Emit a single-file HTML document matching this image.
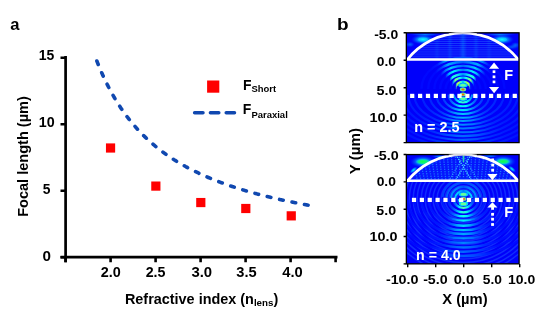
<!DOCTYPE html>
<html><head><meta charset="utf-8"><style>html,body{margin:0;padding:0;background:#fff;overflow:hidden}svg{display:block}</style></head>
<body><svg width="550" height="318" viewBox="0 0 550 318"><rect width="550" height="318" fill="#fff"/>
<path d="M65.6 56 V262.3 M60.5 257.2 H337.5" stroke="#000" stroke-width="2.7" fill="none"/>
<path d="M60.5 57.70 H65.6 M60.5 124.20 H65.6 M60.5 190.70 H65.6 M60.5 257.20 H65.6 M65.60 257.2 V262.3 M110.60 257.2 V262.3 M155.60 257.2 V262.3 M200.60 257.2 V262.3 M245.60 257.2 V262.3 M290.60 257.2 V262.3 M335.60 257.2 V262.3" stroke="#000" stroke-width="2.6" fill="none"/>
<rect x="105.95" y="143.40" width="9.2" height="9.2" fill="#ff0000"/>
<rect x="151.25" y="181.50" width="9.2" height="9.2" fill="#ff0000"/>
<rect x="196.20" y="197.95" width="9.2" height="9.2" fill="#ff0000"/>
<rect x="241.20" y="203.90" width="9.2" height="9.2" fill="#ff0000"/>
<rect x="286.65" y="211.25" width="9.2" height="9.2" fill="#ff0000"/>
<path d="M96.87 61.03 L97.40 62.38 L97.93 63.71 L98.46 65.03 L98.99 66.32 L99.52 67.60 L100.04 68.86 L100.57 70.10 L101.10 71.33 L101.63 72.54 L102.16 73.74 L102.69 74.92 L103.21 76.09 L103.74 77.24 L104.27 78.37 L104.80 79.49 L105.33 80.60 L105.85 81.70 L106.38 82.78 L106.91 83.84 L107.44 84.90 L107.97 85.94 L108.50 86.97 L109.02 87.99 L109.55 88.99 L110.08 89.98 L110.61 90.97 L111.14 91.94 L111.66 92.89 L112.19 93.84 L112.72 94.78 L113.25 95.70 L113.78 96.62 L114.31 97.52 L114.83 98.42 L115.36 99.31 L115.89 100.18 L116.42 101.05 L116.95 101.90 L117.48 102.75 L118.00 103.59 L118.53 104.41 L119.06 105.23 L119.59 106.05 L120.12 106.85 L120.64 107.64 L121.17 108.43 L121.70 109.20 L122.23 109.97 L122.76 110.73 L123.29 111.49 L123.81 112.23 L124.34 112.97 L124.87 113.70 L125.40 114.43 L125.93 115.14 L126.45 115.85 L126.98 116.55 L127.51 117.25 L128.04 117.94 L128.57 118.62 L129.10 119.29 L129.62 119.96 L130.15 120.62 L130.68 121.28 L131.21 121.93 L131.74 122.57 L132.27 123.21 L132.79 123.84 L133.32 124.46 L133.85 125.08 L134.38 125.69 L134.91 126.30 L135.43 126.90 L135.96 127.50 L136.49 128.09 L137.02 128.68 L137.55 129.26 L138.08 129.83 L138.60 130.40 L139.13 130.97 L139.66 131.53 L140.19 132.08 L140.72 132.63 L141.24 133.18 L141.77 133.72 L142.30 134.26 L142.83 134.79 L143.36 135.31 L143.89 135.84 L144.41 136.35 L144.94 136.87 L145.47 137.38 L146.00 137.88 L146.53 138.38 L147.05 138.88 L147.58 139.37 L148.11 139.86 L148.64 140.34 L149.17 140.82 L149.70 141.30 L150.22 141.77 L150.75 142.24 L151.28 142.70 L151.81 143.16 L152.34 143.62 L152.87 144.08 L153.39 144.53 L153.92 144.97 L154.45 145.41 L154.98 145.85 L155.51 146.29 L156.03 146.72 L156.56 147.15 L157.09 147.58 L157.62 148.00 L158.15 148.42 L158.68 148.84 L159.20 149.25 L159.73 149.66 L160.26 150.06 L160.79 150.47 L161.32 150.87 L161.84 151.27 L162.37 151.66 L162.90 152.05 L163.43 152.44 L163.96 152.83 L164.49 153.21 L165.01 153.59 L165.54 153.97 L166.07 154.34 L166.60 154.72 L167.13 155.09 L167.66 155.45 L168.18 155.82 L168.71 156.18 L169.24 156.54 L169.77 156.89 L170.30 157.25 L170.82 157.60 L171.35 157.95 L171.88 158.29 L172.41 158.64 L172.94 158.98 L173.47 159.32 L173.99 159.66 L174.52 159.99 L175.05 160.32 L175.58 160.65 L176.11 160.98 L176.63 161.31 L177.16 161.63 L177.69 161.95 L178.22 162.27 L178.75 162.59 L179.28 162.90 L179.80 163.22 L180.33 163.53 L180.86 163.84 L181.39 164.14 L181.92 164.45 L182.45 164.75 L182.97 165.05 L183.50 165.35 L184.03 165.65 L184.56 165.94 L185.09 166.23 L185.61 166.53 L186.14 166.82 L186.67 167.10 L187.20 167.39 L187.73 167.67 L188.26 167.95 L188.78 168.23 L189.31 168.51 L189.84 168.79 L190.37 169.07 L190.90 169.34 L191.42 169.61 L191.95 169.88 L192.48 170.15 L193.01 170.42 L193.54 170.68 L194.07 170.94 L194.59 171.21 L195.12 171.47 L195.65 171.72 L196.18 171.98 L196.71 172.24 L197.23 172.49 L197.76 172.74 L198.29 172.99 L198.82 173.24 L199.35 173.49 L199.88 173.74 L200.40 173.98 L200.93 174.23 L201.46 174.47 L201.99 174.71 L202.52 174.95 L203.05 175.19 L203.57 175.43 L204.10 175.66 L204.63 175.90 L205.16 176.13 L205.69 176.36 L206.21 176.59 L206.74 176.82 L207.27 177.05 L207.80 177.27 L208.33 177.50 L208.86 177.72 L209.38 177.94 L209.91 178.16 L210.44 178.38 L210.97 178.60 L211.50 178.82 L212.02 179.04 L212.55 179.25 L213.08 179.47 L213.61 179.68 L214.14 179.89 L214.67 180.10 L215.19 180.31 L215.72 180.52 L216.25 180.72 L216.78 180.93 L217.31 181.14 L217.84 181.34 L218.36 181.54 L218.89 181.74 L219.42 181.94 L219.95 182.14 L220.48 182.34 L221.00 182.54 L221.53 182.73 L222.06 182.93 L222.59 183.12 L223.12 183.32 L223.65 183.51 L224.17 183.70 L224.70 183.89 L225.23 184.08 L225.76 184.27 L226.29 184.46 L226.81 184.64 L227.34 184.83 L227.87 185.01 L228.40 185.20 L228.93 185.38 L229.46 185.56 L229.98 185.74 L230.51 185.92 L231.04 186.10 L231.57 186.28 L232.10 186.45 L232.62 186.63 L233.15 186.81 L233.68 186.98 L234.21 187.15 L234.74 187.33 L235.27 187.50 L235.79 187.67 L236.32 187.84 L236.85 188.01 L237.38 188.18 L237.91 188.35 L238.44 188.51 L238.96 188.68 L239.49 188.84 L240.02 189.01 L240.55 189.17 L241.08 189.34 L241.60 189.50 L242.13 189.66 L242.66 189.82 L243.19 189.98 L243.72 190.14 L244.25 190.30 L244.77 190.45 L245.30 190.61 L245.83 190.77 L246.36 190.92 L246.89 191.08 L247.41 191.23 L247.94 191.39 L248.47 191.54 L249.00 191.69 L249.53 191.84 L250.06 191.99 L250.58 192.14 L251.11 192.29 L251.64 192.44 L252.17 192.59 L252.70 192.73 L253.23 192.88 L253.75 193.03 L254.28 193.17 L254.81 193.31 L255.34 193.46 L255.87 193.60 L256.39 193.74 L256.92 193.89 L257.45 194.03 L257.98 194.17 L258.51 194.31 L259.04 194.45 L259.56 194.59 L260.09 194.72 L260.62 194.86 L261.15 195.00 L261.68 195.13 L262.20 195.27 L262.73 195.41 L263.26 195.54 L263.79 195.67 L264.32 195.81 L264.85 195.94 L265.37 196.07 L265.90 196.20 L266.43 196.33 L266.96 196.47 L267.49 196.60 L268.02 196.72 L268.54 196.85 L269.07 196.98 L269.60 197.11 L270.13 197.24 L270.66 197.36 L271.18 197.49 L271.71 197.62 L272.24 197.74 L272.77 197.86 L273.30 197.99 L273.83 198.11 L274.35 198.24 L274.88 198.36 L275.41 198.48 L275.94 198.60 L276.47 198.72 L276.99 198.84 L277.52 198.96 L278.05 199.08 L278.58 199.20 L279.11 199.32 L279.64 199.44 L280.16 199.56 L280.69 199.67 L281.22 199.79 L281.75 199.91 L282.28 200.02 L282.80 200.14 L283.33 200.25 L283.86 200.36 L284.39 200.48 L284.92 200.59 L285.45 200.70 L285.97 200.82 L286.50 200.93 L287.03 201.04 L287.56 201.15 L288.09 201.26 L288.62 201.37 L289.14 201.48 L289.67 201.59 L290.20 201.70 L290.73 201.81 L291.26 201.92 L291.78 202.03 L292.31 202.13 L292.84 202.24 L293.37 202.35 L293.90 202.45 L294.43 202.56 L294.95 202.66 L295.48 202.77 L296.01 202.87 L296.54 202.98 L297.07 203.08 L297.59 203.18 L298.12 203.29 L298.65 203.39 L299.18 203.49 L299.71 203.59 L300.24 203.69 L300.76 203.79 L301.29 203.89 L301.82 203.99 L302.35 204.09 L302.88 204.19 L303.41 204.29 L303.93 204.39 L304.46 204.49 L304.99 204.59 L305.52 204.68 L306.05 204.78 L306.57 204.88 L307.10 204.98 L307.63 205.07 L308.16 205.17" stroke="#1048b0" stroke-width="3.6" fill="none" stroke-linecap="round" stroke-dasharray="3.7 8.98"/>
<rect x="207.1" y="80.5" width="12.2" height="12.2" fill="#ff0000"/>
<path d="M194.6 112.8 H234.5" stroke="#1048b0" stroke-width="3.5" stroke-linecap="round" stroke-dasharray="8.4 7.4" fill="none"/>
<defs><clipPath id="lc1"><path d="M407.41 59.5 A70.8 70.8 0 0 1 518.19 59.5 Z"/></clipPath>
<clipPath id="lc2"><path d="M407.65 180.7 A70.8 70.8 0 0 1 517.95 180.7 Z"/></clipPath>
<clipPath id="bl2"><rect x="407" y="181.8" width="112" height="82"/></clipPath><linearGradient id="gvb"><stop offset="0" stop-color="#00c0ff" stop-opacity="0"/><stop offset="0.5" stop-color="#00c0ff"/><stop offset="1" stop-color="#00c0ff" stop-opacity="0"/></linearGradient><radialGradient id="gcy"><stop offset="0" stop-color="#00ffff"/><stop offset="0.5" stop-color="#00b0ff" stop-opacity="0.7"/><stop offset="1" stop-color="#0040ff" stop-opacity="0"/></radialGradient>
<radialGradient id="ggr"><stop offset="0" stop-color="#10ff40"/><stop offset="0.6" stop-color="#10f080" stop-opacity="0.9"/><stop offset="1" stop-color="#00e0e0" stop-opacity="0"/></radialGradient><linearGradient id="g0" gradientUnits="userSpaceOnUse" x1="455.1" y1="0" x2="470.9" y2="0"><stop offset="0.000" stop-color="#0008ff"/><stop offset="0.014" stop-color="#0008ff"/><stop offset="0.052" stop-color="#0057ff"/><stop offset="0.112" stop-color="#83ff7b"/><stop offset="0.191" stop-color="#bdff41"/><stop offset="0.285" stop-color="#8aff74"/><stop offset="0.390" stop-color="#29ffd5"/><stop offset="0.500" stop-color="#00c7ff"/><stop offset="0.610" stop-color="#29ffd5"/><stop offset="0.715" stop-color="#8aff74"/><stop offset="0.809" stop-color="#bdff41"/><stop offset="0.888" stop-color="#83ff7b"/><stop offset="0.948" stop-color="#0057ff"/><stop offset="0.986" stop-color="#0008ff"/><stop offset="1.000" stop-color="#0008ff"/></linearGradient>
<linearGradient id="g1" gradientUnits="userSpaceOnUse" x1="450.6" y1="0" x2="475.4" y2="0"><stop offset="0.000" stop-color="#0008ff"/><stop offset="0.014" stop-color="#0008ff"/><stop offset="0.052" stop-color="#0008ff"/><stop offset="0.112" stop-color="#0090ff"/><stop offset="0.191" stop-color="#7bff83"/><stop offset="0.285" stop-color="#50ffae"/><stop offset="0.390" stop-color="#00fcff"/><stop offset="0.500" stop-color="#00aaff"/><stop offset="0.610" stop-color="#00fcff"/><stop offset="0.715" stop-color="#50ffae"/><stop offset="0.809" stop-color="#7bff83"/><stop offset="0.888" stop-color="#0090ff"/><stop offset="0.948" stop-color="#0008ff"/><stop offset="0.986" stop-color="#0008ff"/><stop offset="1.000" stop-color="#0008ff"/></linearGradient>
<linearGradient id="g2" gradientUnits="userSpaceOnUse" x1="445.6" y1="0" x2="480.4" y2="0"><stop offset="0.000" stop-color="#0008ff"/><stop offset="0.014" stop-color="#0008ff"/><stop offset="0.052" stop-color="#0008ff"/><stop offset="0.112" stop-color="#0008ff"/><stop offset="0.191" stop-color="#18ffe6"/><stop offset="0.285" stop-color="#1effe0"/><stop offset="0.390" stop-color="#00d7ff"/><stop offset="0.500" stop-color="#0090ff"/><stop offset="0.610" stop-color="#00d7ff"/><stop offset="0.715" stop-color="#1effe0"/><stop offset="0.809" stop-color="#18ffe6"/><stop offset="0.888" stop-color="#0008ff"/><stop offset="0.948" stop-color="#0008ff"/><stop offset="0.986" stop-color="#0008ff"/><stop offset="1.000" stop-color="#0008ff"/></linearGradient>
<linearGradient id="g3" gradientUnits="userSpaceOnUse" x1="440.2" y1="0" x2="485.8" y2="0"><stop offset="0.000" stop-color="#0008ff"/><stop offset="0.014" stop-color="#0008ff"/><stop offset="0.052" stop-color="#0008ff"/><stop offset="0.112" stop-color="#0008ff"/><stop offset="0.191" stop-color="#00b5ff"/><stop offset="0.285" stop-color="#00f3ff"/><stop offset="0.390" stop-color="#00b7ff"/><stop offset="0.500" stop-color="#007bff"/><stop offset="0.610" stop-color="#00b7ff"/><stop offset="0.715" stop-color="#00f3ff"/><stop offset="0.809" stop-color="#00b5ff"/><stop offset="0.888" stop-color="#0008ff"/><stop offset="0.948" stop-color="#0008ff"/><stop offset="0.986" stop-color="#0008ff"/><stop offset="1.000" stop-color="#0008ff"/></linearGradient>
<linearGradient id="g4" gradientUnits="userSpaceOnUse" x1="434.4" y1="0" x2="491.6" y2="0"><stop offset="0.000" stop-color="#0008ff"/><stop offset="0.014" stop-color="#0008ff"/><stop offset="0.052" stop-color="#0008ff"/><stop offset="0.112" stop-color="#0008ff"/><stop offset="0.191" stop-color="#006fff"/><stop offset="0.285" stop-color="#00cfff"/><stop offset="0.390" stop-color="#009cff"/><stop offset="0.500" stop-color="#0069ff"/><stop offset="0.610" stop-color="#009cff"/><stop offset="0.715" stop-color="#00cfff"/><stop offset="0.809" stop-color="#006fff"/><stop offset="0.888" stop-color="#0008ff"/><stop offset="0.948" stop-color="#0008ff"/><stop offset="0.986" stop-color="#0008ff"/><stop offset="1.000" stop-color="#0008ff"/></linearGradient>
<linearGradient id="g5" gradientUnits="userSpaceOnUse" x1="428.2" y1="0" x2="497.8" y2="0"><stop offset="0.000" stop-color="#0008ff"/><stop offset="0.014" stop-color="#0008ff"/><stop offset="0.052" stop-color="#0008ff"/><stop offset="0.112" stop-color="#0008ff"/><stop offset="0.191" stop-color="#003cff"/><stop offset="0.285" stop-color="#00b0ff"/><stop offset="0.390" stop-color="#0085ff"/><stop offset="0.500" stop-color="#0059ff"/><stop offset="0.610" stop-color="#0085ff"/><stop offset="0.715" stop-color="#00b0ff"/><stop offset="0.809" stop-color="#003cff"/><stop offset="0.888" stop-color="#0008ff"/><stop offset="0.948" stop-color="#0008ff"/><stop offset="0.986" stop-color="#0008ff"/><stop offset="1.000" stop-color="#0008ff"/></linearGradient>
<linearGradient id="g6" gradientUnits="userSpaceOnUse" x1="421.5" y1="0" x2="504.5" y2="0"><stop offset="0.000" stop-color="#0008ff"/><stop offset="0.014" stop-color="#0008ff"/><stop offset="0.052" stop-color="#0008ff"/><stop offset="0.112" stop-color="#0008ff"/><stop offset="0.191" stop-color="#0018ff"/><stop offset="0.285" stop-color="#0096ff"/><stop offset="0.390" stop-color="#0071ff"/><stop offset="0.500" stop-color="#004cff"/><stop offset="0.610" stop-color="#0071ff"/><stop offset="0.715" stop-color="#0096ff"/><stop offset="0.809" stop-color="#0018ff"/><stop offset="0.888" stop-color="#0008ff"/><stop offset="0.948" stop-color="#0008ff"/><stop offset="0.986" stop-color="#0008ff"/><stop offset="1.000" stop-color="#0008ff"/></linearGradient>
<linearGradient id="g7" gradientUnits="userSpaceOnUse" x1="458.4" y1="0" x2="467.6" y2="0"><stop offset="0.000" stop-color="#00f8ff"/><stop offset="0.011" stop-color="#00fcff"/><stop offset="0.041" stop-color="#08fff6"/><stop offset="0.087" stop-color="#1affe4"/><stop offset="0.149" stop-color="#31ffcd"/><stop offset="0.225" stop-color="#4bffb3"/><stop offset="0.311" stop-color="#62ff9c"/><stop offset="0.404" stop-color="#73ff8b"/><stop offset="0.500" stop-color="#79ff85"/><stop offset="0.596" stop-color="#73ff8b"/><stop offset="0.689" stop-color="#62ff9c"/><stop offset="0.775" stop-color="#4bffb3"/><stop offset="0.851" stop-color="#31ffcd"/><stop offset="0.913" stop-color="#1affe4"/><stop offset="0.959" stop-color="#08fff6"/><stop offset="0.989" stop-color="#00fcff"/><stop offset="1.000" stop-color="#00f8ff"/></linearGradient>
<linearGradient id="g8" gradientUnits="userSpaceOnUse" x1="453.8" y1="0" x2="472.2" y2="0"><stop offset="0.000" stop-color="#007dff"/><stop offset="0.011" stop-color="#0081ff"/><stop offset="0.041" stop-color="#008cff"/><stop offset="0.087" stop-color="#009fff"/><stop offset="0.149" stop-color="#00bbff"/><stop offset="0.225" stop-color="#00dfff"/><stop offset="0.311" stop-color="#07fff7"/><stop offset="0.404" stop-color="#26ffd8"/><stop offset="0.500" stop-color="#32ffcc"/><stop offset="0.596" stop-color="#26ffd8"/><stop offset="0.689" stop-color="#07fff7"/><stop offset="0.775" stop-color="#00dfff"/><stop offset="0.851" stop-color="#00bbff"/><stop offset="0.913" stop-color="#009fff"/><stop offset="0.959" stop-color="#008cff"/><stop offset="0.989" stop-color="#0081ff"/><stop offset="1.000" stop-color="#007dff"/></linearGradient>
<linearGradient id="g9" gradientUnits="userSpaceOnUse" x1="448.6" y1="0" x2="477.4" y2="0"><stop offset="0.000" stop-color="#004bff"/><stop offset="0.011" stop-color="#004dff"/><stop offset="0.041" stop-color="#0055ff"/><stop offset="0.087" stop-color="#0063ff"/><stop offset="0.149" stop-color="#007bff"/><stop offset="0.225" stop-color="#009eff"/><stop offset="0.311" stop-color="#00caff"/><stop offset="0.404" stop-color="#00f1ff"/><stop offset="0.500" stop-color="#02fffc"/><stop offset="0.596" stop-color="#00f1ff"/><stop offset="0.689" stop-color="#00caff"/><stop offset="0.775" stop-color="#009eff"/><stop offset="0.851" stop-color="#007bff"/><stop offset="0.913" stop-color="#0063ff"/><stop offset="0.959" stop-color="#0055ff"/><stop offset="0.989" stop-color="#004dff"/><stop offset="1.000" stop-color="#004bff"/></linearGradient>
<linearGradient id="g10" gradientUnits="userSpaceOnUse" x1="442.8" y1="0" x2="483.2" y2="0"><stop offset="0.000" stop-color="#0035ff"/><stop offset="0.011" stop-color="#0037ff"/><stop offset="0.041" stop-color="#003bff"/><stop offset="0.087" stop-color="#0044ff"/><stop offset="0.149" stop-color="#0056ff"/><stop offset="0.225" stop-color="#0075ff"/><stop offset="0.311" stop-color="#00a1ff"/><stop offset="0.404" stop-color="#00ccff"/><stop offset="0.500" stop-color="#00dfff"/><stop offset="0.596" stop-color="#00ccff"/><stop offset="0.689" stop-color="#00a1ff"/><stop offset="0.775" stop-color="#0075ff"/><stop offset="0.851" stop-color="#0056ff"/><stop offset="0.913" stop-color="#0044ff"/><stop offset="0.959" stop-color="#003bff"/><stop offset="0.989" stop-color="#0037ff"/><stop offset="1.000" stop-color="#0035ff"/></linearGradient>
<linearGradient id="g11" gradientUnits="userSpaceOnUse" x1="436.4" y1="0" x2="489.6" y2="0"><stop offset="0.000" stop-color="#002bff"/><stop offset="0.011" stop-color="#002bff"/><stop offset="0.041" stop-color="#002dff"/><stop offset="0.087" stop-color="#0033ff"/><stop offset="0.149" stop-color="#003fff"/><stop offset="0.225" stop-color="#0059ff"/><stop offset="0.311" stop-color="#0083ff"/><stop offset="0.404" stop-color="#00b0ff"/><stop offset="0.500" stop-color="#00c5ff"/><stop offset="0.596" stop-color="#00b0ff"/><stop offset="0.689" stop-color="#0083ff"/><stop offset="0.775" stop-color="#0059ff"/><stop offset="0.851" stop-color="#003fff"/><stop offset="0.913" stop-color="#0033ff"/><stop offset="0.959" stop-color="#002dff"/><stop offset="0.989" stop-color="#002bff"/><stop offset="1.000" stop-color="#002bff"/></linearGradient>
<linearGradient id="g12" gradientUnits="userSpaceOnUse" x1="429.5" y1="0" x2="496.5" y2="0"><stop offset="0.000" stop-color="#0024ff"/><stop offset="0.011" stop-color="#0024ff"/><stop offset="0.041" stop-color="#0026ff"/><stop offset="0.087" stop-color="#0029ff"/><stop offset="0.149" stop-color="#0031ff"/><stop offset="0.225" stop-color="#0045ff"/><stop offset="0.311" stop-color="#006bff"/><stop offset="0.404" stop-color="#009aff"/><stop offset="0.500" stop-color="#00b0ff"/><stop offset="0.596" stop-color="#009aff"/><stop offset="0.689" stop-color="#006bff"/><stop offset="0.775" stop-color="#0045ff"/><stop offset="0.851" stop-color="#0031ff"/><stop offset="0.913" stop-color="#0029ff"/><stop offset="0.959" stop-color="#0026ff"/><stop offset="0.989" stop-color="#0024ff"/><stop offset="1.000" stop-color="#0024ff"/></linearGradient>
<linearGradient id="g13" gradientUnits="userSpaceOnUse" x1="422.0" y1="0" x2="504.0" y2="0"><stop offset="0.000" stop-color="#0020ff"/><stop offset="0.011" stop-color="#0020ff"/><stop offset="0.041" stop-color="#0021ff"/><stop offset="0.087" stop-color="#0022ff"/><stop offset="0.149" stop-color="#0028ff"/><stop offset="0.225" stop-color="#0037ff"/><stop offset="0.311" stop-color="#0059ff"/><stop offset="0.404" stop-color="#0087ff"/><stop offset="0.500" stop-color="#009fff"/><stop offset="0.596" stop-color="#0087ff"/><stop offset="0.689" stop-color="#0059ff"/><stop offset="0.775" stop-color="#0037ff"/><stop offset="0.851" stop-color="#0028ff"/><stop offset="0.913" stop-color="#0022ff"/><stop offset="0.959" stop-color="#0021ff"/><stop offset="0.989" stop-color="#0020ff"/><stop offset="1.000" stop-color="#0020ff"/></linearGradient>
<linearGradient id="g14" gradientUnits="userSpaceOnUse" x1="414.3" y1="0" x2="511.7" y2="0"><stop offset="0.000" stop-color="#001dff"/><stop offset="0.011" stop-color="#001dff"/><stop offset="0.041" stop-color="#001dff"/><stop offset="0.087" stop-color="#001eff"/><stop offset="0.149" stop-color="#0021ff"/><stop offset="0.225" stop-color="#002dff"/><stop offset="0.311" stop-color="#004aff"/><stop offset="0.404" stop-color="#0077ff"/><stop offset="0.500" stop-color="#0090ff"/><stop offset="0.596" stop-color="#0077ff"/><stop offset="0.689" stop-color="#004aff"/><stop offset="0.775" stop-color="#002dff"/><stop offset="0.851" stop-color="#0021ff"/><stop offset="0.913" stop-color="#001eff"/><stop offset="0.959" stop-color="#001dff"/><stop offset="0.989" stop-color="#001dff"/><stop offset="1.000" stop-color="#001dff"/></linearGradient>
<linearGradient id="g15" gradientUnits="userSpaceOnUse" x1="408.3" y1="0" x2="517.7" y2="0"><stop offset="0.000" stop-color="#001aff"/><stop offset="0.011" stop-color="#001aff"/><stop offset="0.041" stop-color="#001aff"/><stop offset="0.087" stop-color="#001bff"/><stop offset="0.149" stop-color="#001eff"/><stop offset="0.225" stop-color="#0027ff"/><stop offset="0.311" stop-color="#0042ff"/><stop offset="0.404" stop-color="#006bff"/><stop offset="0.500" stop-color="#0082ff"/><stop offset="0.596" stop-color="#006bff"/><stop offset="0.689" stop-color="#0042ff"/><stop offset="0.775" stop-color="#0027ff"/><stop offset="0.851" stop-color="#001eff"/><stop offset="0.913" stop-color="#001bff"/><stop offset="0.959" stop-color="#001aff"/><stop offset="0.989" stop-color="#001aff"/><stop offset="1.000" stop-color="#001aff"/></linearGradient>
<linearGradient id="g16" gradientUnits="userSpaceOnUse" x1="402.3" y1="0" x2="523.7" y2="0"><stop offset="0.000" stop-color="#0017ff"/><stop offset="0.011" stop-color="#0017ff"/><stop offset="0.041" stop-color="#0018ff"/><stop offset="0.087" stop-color="#0018ff"/><stop offset="0.149" stop-color="#001aff"/><stop offset="0.225" stop-color="#0023ff"/><stop offset="0.311" stop-color="#003aff"/><stop offset="0.404" stop-color="#0061ff"/><stop offset="0.500" stop-color="#0076ff"/><stop offset="0.596" stop-color="#0061ff"/><stop offset="0.689" stop-color="#003aff"/><stop offset="0.775" stop-color="#0023ff"/><stop offset="0.851" stop-color="#001aff"/><stop offset="0.913" stop-color="#0018ff"/><stop offset="0.959" stop-color="#0018ff"/><stop offset="0.989" stop-color="#0017ff"/><stop offset="1.000" stop-color="#0017ff"/></linearGradient>
<linearGradient id="g17" gradientUnits="userSpaceOnUse" x1="396.3" y1="0" x2="529.7" y2="0"><stop offset="0.000" stop-color="#0015ff"/><stop offset="0.011" stop-color="#0015ff"/><stop offset="0.041" stop-color="#0015ff"/><stop offset="0.087" stop-color="#0016ff"/><stop offset="0.149" stop-color="#0018ff"/><stop offset="0.225" stop-color="#001fff"/><stop offset="0.311" stop-color="#0034ff"/><stop offset="0.404" stop-color="#0057ff"/><stop offset="0.500" stop-color="#006cff"/><stop offset="0.596" stop-color="#0057ff"/><stop offset="0.689" stop-color="#0034ff"/><stop offset="0.775" stop-color="#001fff"/><stop offset="0.851" stop-color="#0018ff"/><stop offset="0.913" stop-color="#0016ff"/><stop offset="0.959" stop-color="#0015ff"/><stop offset="0.989" stop-color="#0015ff"/><stop offset="1.000" stop-color="#0015ff"/></linearGradient>
<linearGradient id="g18" gradientUnits="userSpaceOnUse" x1="390.3" y1="0" x2="535.7" y2="0"><stop offset="0.000" stop-color="#0013ff"/><stop offset="0.011" stop-color="#0013ff"/><stop offset="0.041" stop-color="#0013ff"/><stop offset="0.087" stop-color="#0014ff"/><stop offset="0.149" stop-color="#0015ff"/><stop offset="0.225" stop-color="#001cff"/><stop offset="0.311" stop-color="#002eff"/><stop offset="0.404" stop-color="#004fff"/><stop offset="0.500" stop-color="#0062ff"/><stop offset="0.596" stop-color="#004fff"/><stop offset="0.689" stop-color="#002eff"/><stop offset="0.775" stop-color="#001cff"/><stop offset="0.851" stop-color="#0015ff"/><stop offset="0.913" stop-color="#0014ff"/><stop offset="0.959" stop-color="#0013ff"/><stop offset="0.989" stop-color="#0013ff"/><stop offset="1.000" stop-color="#0013ff"/></linearGradient>
<linearGradient id="g19" gradientUnits="userSpaceOnUse" x1="384.3" y1="0" x2="541.7" y2="0"><stop offset="0.000" stop-color="#0011ff"/><stop offset="0.011" stop-color="#0011ff"/><stop offset="0.041" stop-color="#0012ff"/><stop offset="0.087" stop-color="#0012ff"/><stop offset="0.149" stop-color="#0013ff"/><stop offset="0.225" stop-color="#0019ff"/><stop offset="0.311" stop-color="#002aff"/><stop offset="0.404" stop-color="#0047ff"/><stop offset="0.500" stop-color="#0059ff"/><stop offset="0.596" stop-color="#0047ff"/><stop offset="0.689" stop-color="#002aff"/><stop offset="0.775" stop-color="#0019ff"/><stop offset="0.851" stop-color="#0013ff"/><stop offset="0.913" stop-color="#0012ff"/><stop offset="0.959" stop-color="#0012ff"/><stop offset="0.989" stop-color="#0011ff"/><stop offset="1.000" stop-color="#0011ff"/></linearGradient>
<linearGradient id="g20" gradientUnits="userSpaceOnUse" x1="378.3" y1="0" x2="547.7" y2="0"><stop offset="0.000" stop-color="#0010ff"/><stop offset="0.011" stop-color="#0010ff"/><stop offset="0.041" stop-color="#0010ff"/><stop offset="0.087" stop-color="#0010ff"/><stop offset="0.149" stop-color="#0011ff"/><stop offset="0.225" stop-color="#0016ff"/><stop offset="0.311" stop-color="#0025ff"/><stop offset="0.404" stop-color="#0041ff"/><stop offset="0.500" stop-color="#0051ff"/><stop offset="0.596" stop-color="#0041ff"/><stop offset="0.689" stop-color="#0025ff"/><stop offset="0.775" stop-color="#0016ff"/><stop offset="0.851" stop-color="#0011ff"/><stop offset="0.913" stop-color="#0010ff"/><stop offset="0.959" stop-color="#0010ff"/><stop offset="0.989" stop-color="#0010ff"/><stop offset="1.000" stop-color="#0010ff"/></linearGradient>
<linearGradient id="g21" gradientUnits="userSpaceOnUse" x1="455.1" y1="0" x2="471.9" y2="0"><stop offset="0.000" stop-color="#00ceff"/><stop offset="0.026" stop-color="#00ceff"/><stop offset="0.081" stop-color="#00ceff"/><stop offset="0.161" stop-color="#00ceff"/><stop offset="0.262" stop-color="#00beff"/><stop offset="0.377" stop-color="#009dff"/><stop offset="0.500" stop-color="#007bff"/><stop offset="0.623" stop-color="#009dff"/><stop offset="0.738" stop-color="#00beff"/><stop offset="0.839" stop-color="#00ceff"/><stop offset="0.919" stop-color="#00ceff"/><stop offset="0.974" stop-color="#00ceff"/><stop offset="1.000" stop-color="#00ceff"/></linearGradient>
<linearGradient id="g22" gradientUnits="userSpaceOnUse" x1="450.9" y1="0" x2="476.1" y2="0"><stop offset="0.000" stop-color="#008aff"/><stop offset="0.026" stop-color="#008aff"/><stop offset="0.081" stop-color="#008aff"/><stop offset="0.161" stop-color="#008aff"/><stop offset="0.262" stop-color="#007fff"/><stop offset="0.377" stop-color="#0069ff"/><stop offset="0.500" stop-color="#0052ff"/><stop offset="0.623" stop-color="#0069ff"/><stop offset="0.738" stop-color="#007fff"/><stop offset="0.839" stop-color="#008aff"/><stop offset="0.919" stop-color="#008aff"/><stop offset="0.974" stop-color="#008aff"/><stop offset="1.000" stop-color="#008aff"/></linearGradient>
<linearGradient id="g23" gradientUnits="userSpaceOnUse" x1="446.8" y1="0" x2="480.2" y2="0"><stop offset="0.000" stop-color="#005cff"/><stop offset="0.026" stop-color="#005cff"/><stop offset="0.081" stop-color="#005cff"/><stop offset="0.161" stop-color="#005cff"/><stop offset="0.262" stop-color="#0055ff"/><stop offset="0.377" stop-color="#0046ff"/><stop offset="0.500" stop-color="#0037ff"/><stop offset="0.623" stop-color="#0046ff"/><stop offset="0.738" stop-color="#0055ff"/><stop offset="0.839" stop-color="#005cff"/><stop offset="0.919" stop-color="#005cff"/><stop offset="0.974" stop-color="#005cff"/><stop offset="1.000" stop-color="#005cff"/></linearGradient>
<linearGradient id="g24" gradientUnits="userSpaceOnUse" x1="442.6" y1="0" x2="484.4" y2="0"><stop offset="0.000" stop-color="#003eff"/><stop offset="0.026" stop-color="#003eff"/><stop offset="0.081" stop-color="#003eff"/><stop offset="0.161" stop-color="#003eff"/><stop offset="0.262" stop-color="#0039ff"/><stop offset="0.377" stop-color="#002fff"/><stop offset="0.500" stop-color="#0025ff"/><stop offset="0.623" stop-color="#002fff"/><stop offset="0.738" stop-color="#0039ff"/><stop offset="0.839" stop-color="#003eff"/><stop offset="0.919" stop-color="#003eff"/><stop offset="0.974" stop-color="#003eff"/><stop offset="1.000" stop-color="#003eff"/></linearGradient>
<linearGradient id="g25" gradientUnits="userSpaceOnUse" x1="458.9" y1="0" x2="468.1" y2="0"><stop offset="0.000" stop-color="#00c7ff"/><stop offset="0.007" stop-color="#00caff"/><stop offset="0.027" stop-color="#00d4ff"/><stop offset="0.057" stop-color="#00e3ff"/><stop offset="0.099" stop-color="#00f8ff"/><stop offset="0.149" stop-color="#13ffeb"/><stop offset="0.209" stop-color="#30ffce"/><stop offset="0.275" stop-color="#4dffb1"/><stop offset="0.347" stop-color="#67ff97"/><stop offset="0.423" stop-color="#78ff86"/><stop offset="0.500" stop-color="#7eff80"/><stop offset="0.577" stop-color="#78ff86"/><stop offset="0.653" stop-color="#67ff97"/><stop offset="0.725" stop-color="#4dffb1"/><stop offset="0.791" stop-color="#30ffce"/><stop offset="0.851" stop-color="#13ffeb"/><stop offset="0.901" stop-color="#00f8ff"/><stop offset="0.943" stop-color="#00e3ff"/><stop offset="0.973" stop-color="#00d4ff"/><stop offset="0.993" stop-color="#00caff"/><stop offset="1.000" stop-color="#00c7ff"/></linearGradient>
<linearGradient id="g26" gradientUnits="userSpaceOnUse" x1="453.8" y1="0" x2="473.2" y2="0"><stop offset="0.000" stop-color="#0045ff"/><stop offset="0.007" stop-color="#0048ff"/><stop offset="0.027" stop-color="#004eff"/><stop offset="0.057" stop-color="#005aff"/><stop offset="0.099" stop-color="#006eff"/><stop offset="0.149" stop-color="#008cff"/><stop offset="0.209" stop-color="#00b5ff"/><stop offset="0.275" stop-color="#00e8ff"/><stop offset="0.347" stop-color="#1dffe1"/><stop offset="0.423" stop-color="#45ffb9"/><stop offset="0.500" stop-color="#54ffaa"/><stop offset="0.577" stop-color="#45ffb9"/><stop offset="0.653" stop-color="#1dffe1"/><stop offset="0.725" stop-color="#00e8ff"/><stop offset="0.791" stop-color="#00b5ff"/><stop offset="0.851" stop-color="#008cff"/><stop offset="0.901" stop-color="#006eff"/><stop offset="0.943" stop-color="#005aff"/><stop offset="0.973" stop-color="#004eff"/><stop offset="0.993" stop-color="#0048ff"/><stop offset="1.000" stop-color="#0045ff"/></linearGradient>
<linearGradient id="g27" gradientUnits="userSpaceOnUse" x1="448.2" y1="0" x2="478.8" y2="0"><stop offset="0.000" stop-color="#0025ff"/><stop offset="0.007" stop-color="#0025ff"/><stop offset="0.027" stop-color="#0028ff"/><stop offset="0.057" stop-color="#002dff"/><stop offset="0.099" stop-color="#0037ff"/><stop offset="0.149" stop-color="#004aff"/><stop offset="0.209" stop-color="#006cff"/><stop offset="0.275" stop-color="#009fff"/><stop offset="0.347" stop-color="#00dfff"/><stop offset="0.423" stop-color="#18ffe6"/><stop offset="0.500" stop-color="#2fffcf"/><stop offset="0.577" stop-color="#18ffe6"/><stop offset="0.653" stop-color="#00dfff"/><stop offset="0.725" stop-color="#009fff"/><stop offset="0.791" stop-color="#006cff"/><stop offset="0.851" stop-color="#004aff"/><stop offset="0.901" stop-color="#0037ff"/><stop offset="0.943" stop-color="#002dff"/><stop offset="0.973" stop-color="#0028ff"/><stop offset="0.993" stop-color="#0025ff"/><stop offset="1.000" stop-color="#0025ff"/></linearGradient>
<linearGradient id="g28" gradientUnits="userSpaceOnUse" x1="442.2" y1="0" x2="484.8" y2="0"><stop offset="0.000" stop-color="#001cff"/><stop offset="0.007" stop-color="#001cff"/><stop offset="0.027" stop-color="#001dff"/><stop offset="0.057" stop-color="#001eff"/><stop offset="0.099" stop-color="#0023ff"/><stop offset="0.149" stop-color="#002dff"/><stop offset="0.209" stop-color="#0043ff"/><stop offset="0.275" stop-color="#006eff"/><stop offset="0.347" stop-color="#00afff"/><stop offset="0.423" stop-color="#00f0ff"/><stop offset="0.500" stop-color="#0efff0"/><stop offset="0.577" stop-color="#00f0ff"/><stop offset="0.653" stop-color="#00afff"/><stop offset="0.725" stop-color="#006eff"/><stop offset="0.791" stop-color="#0043ff"/><stop offset="0.851" stop-color="#002dff"/><stop offset="0.901" stop-color="#0023ff"/><stop offset="0.943" stop-color="#001eff"/><stop offset="0.973" stop-color="#001dff"/><stop offset="0.993" stop-color="#001cff"/><stop offset="1.000" stop-color="#001cff"/></linearGradient>
<linearGradient id="g29" gradientUnits="userSpaceOnUse" x1="435.7" y1="0" x2="491.3" y2="0"><stop offset="0.000" stop-color="#0018ff"/><stop offset="0.007" stop-color="#0018ff"/><stop offset="0.027" stop-color="#0018ff"/><stop offset="0.057" stop-color="#0018ff"/><stop offset="0.099" stop-color="#001aff"/><stop offset="0.149" stop-color="#001fff"/><stop offset="0.209" stop-color="#002cff"/><stop offset="0.275" stop-color="#004dff"/><stop offset="0.347" stop-color="#0089ff"/><stop offset="0.423" stop-color="#00cfff"/><stop offset="0.500" stop-color="#00f0ff"/><stop offset="0.577" stop-color="#00cfff"/><stop offset="0.653" stop-color="#0089ff"/><stop offset="0.725" stop-color="#004dff"/><stop offset="0.791" stop-color="#002cff"/><stop offset="0.851" stop-color="#001fff"/><stop offset="0.901" stop-color="#001aff"/><stop offset="0.943" stop-color="#0018ff"/><stop offset="0.973" stop-color="#0018ff"/><stop offset="0.993" stop-color="#0018ff"/><stop offset="1.000" stop-color="#0018ff"/></linearGradient>
<linearGradient id="g30" gradientUnits="userSpaceOnUse" x1="428.7" y1="0" x2="498.3" y2="0"><stop offset="0.000" stop-color="#0015ff"/><stop offset="0.007" stop-color="#0015ff"/><stop offset="0.027" stop-color="#0015ff"/><stop offset="0.057" stop-color="#0015ff"/><stop offset="0.099" stop-color="#0016ff"/><stop offset="0.149" stop-color="#0018ff"/><stop offset="0.209" stop-color="#0020ff"/><stop offset="0.275" stop-color="#0037ff"/><stop offset="0.347" stop-color="#006cff"/><stop offset="0.423" stop-color="#00b2ff"/><stop offset="0.500" stop-color="#00d5ff"/><stop offset="0.577" stop-color="#00b2ff"/><stop offset="0.653" stop-color="#006cff"/><stop offset="0.725" stop-color="#0037ff"/><stop offset="0.791" stop-color="#0020ff"/><stop offset="0.851" stop-color="#0018ff"/><stop offset="0.901" stop-color="#0016ff"/><stop offset="0.943" stop-color="#0015ff"/><stop offset="0.973" stop-color="#0015ff"/><stop offset="0.993" stop-color="#0015ff"/><stop offset="1.000" stop-color="#0015ff"/></linearGradient>
<linearGradient id="g31" gradientUnits="userSpaceOnUse" x1="421.3" y1="0" x2="505.7" y2="0"><stop offset="0.000" stop-color="#0013ff"/><stop offset="0.007" stop-color="#0013ff"/><stop offset="0.027" stop-color="#0013ff"/><stop offset="0.057" stop-color="#0013ff"/><stop offset="0.099" stop-color="#0013ff"/><stop offset="0.149" stop-color="#0014ff"/><stop offset="0.209" stop-color="#0018ff"/><stop offset="0.275" stop-color="#0029ff"/><stop offset="0.347" stop-color="#0055ff"/><stop offset="0.423" stop-color="#0099ff"/><stop offset="0.500" stop-color="#00beff"/><stop offset="0.577" stop-color="#0099ff"/><stop offset="0.653" stop-color="#0055ff"/><stop offset="0.725" stop-color="#0029ff"/><stop offset="0.791" stop-color="#0018ff"/><stop offset="0.851" stop-color="#0014ff"/><stop offset="0.901" stop-color="#0013ff"/><stop offset="0.943" stop-color="#0013ff"/><stop offset="0.973" stop-color="#0013ff"/><stop offset="0.993" stop-color="#0013ff"/><stop offset="1.000" stop-color="#0013ff"/></linearGradient>
<linearGradient id="g32" gradientUnits="userSpaceOnUse" x1="414.2" y1="0" x2="512.8" y2="0"><stop offset="0.000" stop-color="#0010ff"/><stop offset="0.007" stop-color="#0010ff"/><stop offset="0.027" stop-color="#0010ff"/><stop offset="0.057" stop-color="#0010ff"/><stop offset="0.099" stop-color="#0011ff"/><stop offset="0.149" stop-color="#0011ff"/><stop offset="0.209" stop-color="#0014ff"/><stop offset="0.275" stop-color="#0020ff"/><stop offset="0.347" stop-color="#0045ff"/><stop offset="0.423" stop-color="#0085ff"/><stop offset="0.500" stop-color="#00a9ff"/><stop offset="0.577" stop-color="#0085ff"/><stop offset="0.653" stop-color="#0045ff"/><stop offset="0.725" stop-color="#0020ff"/><stop offset="0.791" stop-color="#0014ff"/><stop offset="0.851" stop-color="#0011ff"/><stop offset="0.901" stop-color="#0011ff"/><stop offset="0.943" stop-color="#0010ff"/><stop offset="0.973" stop-color="#0010ff"/><stop offset="0.993" stop-color="#0010ff"/><stop offset="1.000" stop-color="#0010ff"/></linearGradient>
<linearGradient id="g33" gradientUnits="userSpaceOnUse" x1="408.1" y1="0" x2="518.9" y2="0"><stop offset="0.000" stop-color="#000fff"/><stop offset="0.007" stop-color="#000fff"/><stop offset="0.027" stop-color="#000fff"/><stop offset="0.057" stop-color="#000fff"/><stop offset="0.099" stop-color="#000fff"/><stop offset="0.149" stop-color="#000fff"/><stop offset="0.209" stop-color="#0011ff"/><stop offset="0.275" stop-color="#001aff"/><stop offset="0.347" stop-color="#003aff"/><stop offset="0.423" stop-color="#0074ff"/><stop offset="0.500" stop-color="#0097ff"/><stop offset="0.577" stop-color="#0074ff"/><stop offset="0.653" stop-color="#003aff"/><stop offset="0.725" stop-color="#001aff"/><stop offset="0.791" stop-color="#0011ff"/><stop offset="0.851" stop-color="#000fff"/><stop offset="0.901" stop-color="#000fff"/><stop offset="0.943" stop-color="#000fff"/><stop offset="0.973" stop-color="#000fff"/><stop offset="0.993" stop-color="#000fff"/><stop offset="1.000" stop-color="#000fff"/></linearGradient>
<linearGradient id="g34" gradientUnits="userSpaceOnUse" x1="401.9" y1="0" x2="525.1" y2="0"><stop offset="0.000" stop-color="#000dff"/><stop offset="0.007" stop-color="#000dff"/><stop offset="0.027" stop-color="#000dff"/><stop offset="0.057" stop-color="#000dff"/><stop offset="0.099" stop-color="#000dff"/><stop offset="0.149" stop-color="#000dff"/><stop offset="0.209" stop-color="#000fff"/><stop offset="0.275" stop-color="#0016ff"/><stop offset="0.347" stop-color="#0031ff"/><stop offset="0.423" stop-color="#0066ff"/><stop offset="0.500" stop-color="#0086ff"/><stop offset="0.577" stop-color="#0066ff"/><stop offset="0.653" stop-color="#0031ff"/><stop offset="0.725" stop-color="#0016ff"/><stop offset="0.791" stop-color="#000fff"/><stop offset="0.851" stop-color="#000dff"/><stop offset="0.901" stop-color="#000dff"/><stop offset="0.943" stop-color="#000dff"/><stop offset="0.973" stop-color="#000dff"/><stop offset="0.993" stop-color="#000dff"/><stop offset="1.000" stop-color="#000dff"/></linearGradient>
<linearGradient id="g35" gradientUnits="userSpaceOnUse" x1="395.8" y1="0" x2="531.2" y2="0"><stop offset="0.000" stop-color="#000bff"/><stop offset="0.007" stop-color="#000bff"/><stop offset="0.027" stop-color="#000bff"/><stop offset="0.057" stop-color="#000bff"/><stop offset="0.099" stop-color="#000cff"/><stop offset="0.149" stop-color="#000cff"/><stop offset="0.209" stop-color="#000dff"/><stop offset="0.275" stop-color="#0013ff"/><stop offset="0.347" stop-color="#002aff"/><stop offset="0.423" stop-color="#005aff"/><stop offset="0.500" stop-color="#0077ff"/><stop offset="0.577" stop-color="#005aff"/><stop offset="0.653" stop-color="#002aff"/><stop offset="0.725" stop-color="#0013ff"/><stop offset="0.791" stop-color="#000dff"/><stop offset="0.851" stop-color="#000cff"/><stop offset="0.901" stop-color="#000cff"/><stop offset="0.943" stop-color="#000bff"/><stop offset="0.973" stop-color="#000bff"/><stop offset="0.993" stop-color="#000bff"/><stop offset="1.000" stop-color="#000bff"/></linearGradient>
<linearGradient id="g36" gradientUnits="userSpaceOnUse" x1="389.6" y1="0" x2="537.4" y2="0"><stop offset="0.000" stop-color="#000aff"/><stop offset="0.007" stop-color="#000aff"/><stop offset="0.027" stop-color="#000aff"/><stop offset="0.057" stop-color="#000aff"/><stop offset="0.099" stop-color="#000aff"/><stop offset="0.149" stop-color="#000aff"/><stop offset="0.209" stop-color="#000bff"/><stop offset="0.275" stop-color="#0010ff"/><stop offset="0.347" stop-color="#0024ff"/><stop offset="0.423" stop-color="#004fff"/><stop offset="0.500" stop-color="#006aff"/><stop offset="0.577" stop-color="#004fff"/><stop offset="0.653" stop-color="#0024ff"/><stop offset="0.725" stop-color="#0010ff"/><stop offset="0.791" stop-color="#000bff"/><stop offset="0.851" stop-color="#000aff"/><stop offset="0.901" stop-color="#000aff"/><stop offset="0.943" stop-color="#000aff"/><stop offset="0.973" stop-color="#000aff"/><stop offset="0.993" stop-color="#000aff"/><stop offset="1.000" stop-color="#000aff"/></linearGradient>
<linearGradient id="g37" gradientUnits="userSpaceOnUse" x1="383.4" y1="0" x2="543.6" y2="0"><stop offset="0.000" stop-color="#0009ff"/><stop offset="0.007" stop-color="#0009ff"/><stop offset="0.027" stop-color="#0009ff"/><stop offset="0.057" stop-color="#0009ff"/><stop offset="0.099" stop-color="#0009ff"/><stop offset="0.149" stop-color="#0009ff"/><stop offset="0.209" stop-color="#000aff"/><stop offset="0.275" stop-color="#000eff"/><stop offset="0.347" stop-color="#001fff"/><stop offset="0.423" stop-color="#0046ff"/><stop offset="0.500" stop-color="#005fff"/><stop offset="0.577" stop-color="#0046ff"/><stop offset="0.653" stop-color="#001fff"/><stop offset="0.725" stop-color="#000eff"/><stop offset="0.791" stop-color="#000aff"/><stop offset="0.851" stop-color="#0009ff"/><stop offset="0.901" stop-color="#0009ff"/><stop offset="0.943" stop-color="#0009ff"/><stop offset="0.973" stop-color="#0009ff"/><stop offset="0.993" stop-color="#0009ff"/><stop offset="1.000" stop-color="#0009ff"/></linearGradient>
<clipPath id="pc0"><rect x="406.95000000000005" y="33.4" width="111.55" height="108.6"/></clipPath>
<clipPath id="pc1"><rect x="406.95000000000005" y="155.15" width="111.55" height="108.10000000000001"/></clipPath>
</defs>
<rect x="406.35" y="32.8" width="112.75" height="109.8" fill="#0000fa"/>
<g clip-path="url(#pc0)">
<g clip-path="url(#lc1)">
<path d="M407 34.0 H519 M407 35.9 H519 M407 37.8 H519 M407 39.7 H519 M407 41.6 H519 M407 43.5 H519 M407 45.4 H519 M407 47.3 H519 M407 49.2 H519 M407 51.1 H519 M407 53.0 H519 M407 54.9 H519 M407 56.8 H519 M407 58.7 H519" stroke="#2a64ff" stroke-opacity="0.6" stroke-width="0.9"/>
<rect x="459" y="33" width="8" height="27" fill="url(#gvb)" opacity="0.28"/>
<rect x="447" y="33" width="6" height="27" fill="url(#gvb)" opacity="0.16"/>
<rect x="473" y="33" width="6" height="27" fill="url(#gvb)" opacity="0.16"/>
<rect x="434" y="33" width="6" height="27" fill="url(#gvb)" opacity="0.1"/>
<rect x="486" y="33" width="6" height="27" fill="url(#gvb)" opacity="0.1"/>
</g>
<ellipse cx="423" cy="39.5" rx="12" ry="5" fill="url(#gcy)"/>
<ellipse cx="502" cy="39.5" rx="12" ry="5" fill="url(#gcy)"/>
<ellipse cx="423" cy="39.5" rx="5" ry="2" fill="#20ffff" opacity="0.35"/>
<ellipse cx="502" cy="39.5" rx="5" ry="2" fill="#20ffff" opacity="0.35"/>
<ellipse cx="512" cy="47" rx="7" ry="2.5" fill="url(#gcy)" opacity="0.35"/>
<ellipse cx="410" cy="44.5" rx="5" ry="3" fill="url(#gcy)" opacity="0.4"/>
<ellipse cx="515.5" cy="45" rx="5" ry="3" fill="url(#gcy)" opacity="0.4"/>
<ellipse cx="425" cy="34.5" rx="16" ry="1.8" fill="url(#gcy)" opacity="0.5"/>
<ellipse cx="500" cy="34.5" rx="16" ry="1.8" fill="url(#gcy)" opacity="0.5"/>
<g fill="none" stroke-width="2.3">
<path d="M455.12 89.27A7.88 7.70 0 0 1 470.88 89.27" stroke="url(#g0)"/>
<path d="M450.55 89.20A12.45 11.55 0 0 1 475.45 89.20" stroke="url(#g1)"/>
<path d="M445.58 89.13A17.43 15.40 0 0 1 480.42 89.13" stroke="url(#g2)"/>
<path d="M440.18 89.06A22.82 19.25 0 0 1 485.82 89.06" stroke="url(#g3)"/>
<path d="M434.37 89.00A28.63 23.10 0 0 1 491.63 89.00" stroke="url(#g4)"/>
<path d="M428.15 88.93A34.85 26.95 0 0 1 497.85 88.93" stroke="url(#g5)"/>
<path d="M421.51 88.86A41.49 30.80 0 0 1 504.49 88.86" stroke="url(#g6)"/>
</g>
<g fill="none" stroke-width="2.1">
<path d="M458.45 94.47A4.55 4.20 0 0 0 467.55 94.47" stroke="url(#g7)"/>
<path d="M453.79 94.54A9.21 7.95 0 0 0 472.21 94.54" stroke="url(#g8)"/>
<path d="M448.56 94.60A14.44 11.70 0 0 0 477.44 94.60" stroke="url(#g9)"/>
<path d="M442.78 94.67A20.22 15.45 0 0 0 483.22 94.67" stroke="url(#g10)"/>
<path d="M436.43 94.74A26.57 19.20 0 0 0 489.57 94.74" stroke="url(#g11)"/>
<path d="M429.52 94.80A33.48 22.95 0 0 0 496.48 94.80" stroke="url(#g12)"/>
<path d="M422.05 94.87A40.96 26.70 0 0 0 503.95 94.87" stroke="url(#g13)"/>
<path d="M414.29 94.93A48.72 30.45 0 0 0 511.71 94.93" stroke="url(#g14)"/>
<path d="M408.29 95.00A54.72 34.20 0 0 0 517.71 95.00" stroke="url(#g15)"/>
<path d="M402.29 95.06A60.72 37.95 0 0 0 523.71 95.06" stroke="url(#g16)"/>
<path d="M396.29 95.13A66.72 41.70 0 0 0 529.71 95.13" stroke="url(#g17)"/>
<path d="M390.29 95.19A72.72 45.45 0 0 0 535.71 95.19" stroke="url(#g18)"/>
<path d="M384.29 95.26A78.72 49.20 0 0 0 541.71 95.26" stroke="url(#g19)"/>
<path d="M378.29 95.32A84.72 52.95 0 0 0 547.71 95.32" stroke="url(#g20)"/>
</g>
<ellipse cx="463.00" cy="85.20" rx="4.6" ry="2.2" fill="#00dbff" opacity="0.95"/>
<ellipse cx="463.00" cy="85.20" rx="3.0" ry="1.3" fill="#6bff93" opacity="1.0"/>
<ellipse cx="463.00" cy="89.50" rx="3.2" ry="1.9" fill="#6bff93" opacity="0.95"/>
<ellipse cx="463.00" cy="89.50" rx="1.6" ry="1.0" fill="#ff6000" opacity="1.0"/>
<ellipse cx="463.00" cy="94.40" rx="3.1" ry="1.9" fill="#6bff93" opacity="0.95"/>
<ellipse cx="463.00" cy="94.40" rx="1.5" ry="1.0" fill="#ff6000" opacity="1.0"/>
<ellipse cx="463.00" cy="98.80" rx="4.4" ry="2.1" fill="#00dbff" opacity="0.95"/>
<ellipse cx="463.00" cy="98.80" rx="2.8" ry="1.2" fill="#6bff93" opacity="1.0"/>
</g>
<g clip-path="url(#pc0)"><path d="M407.41 59.5 A70.8 70.8 0 0 1 518.19 59.5" stroke="#fff" stroke-width="2.7" fill="none"/>
<path d="M406.35 59.5 H519.1" stroke="#fff" stroke-width="2.6"/></g>
<rect x="410.10" y="93.80" width="4.2" height="4.2" fill="#fff"/>
<rect x="417.99" y="93.80" width="4.2" height="4.2" fill="#fff"/>
<rect x="425.88" y="93.80" width="4.2" height="4.2" fill="#fff"/>
<rect x="433.77" y="93.80" width="4.2" height="4.2" fill="#fff"/>
<rect x="441.66" y="93.80" width="4.2" height="4.2" fill="#fff"/>
<rect x="449.55" y="93.80" width="4.2" height="4.2" fill="#fff"/>
<rect x="457.44" y="93.80" width="4.2" height="4.2" fill="#fff"/>
<rect x="465.33" y="93.80" width="4.2" height="4.2" fill="#fff"/>
<rect x="473.22" y="93.80" width="4.2" height="4.2" fill="#fff"/>
<rect x="481.11" y="93.80" width="4.2" height="4.2" fill="#fff"/>
<rect x="489.00" y="93.80" width="4.2" height="4.2" fill="#fff"/>
<rect x="496.89" y="93.80" width="4.2" height="4.2" fill="#fff"/>
<rect x="504.78" y="93.80" width="4.2" height="4.2" fill="#fff"/>
<rect x="512.67" y="93.80" width="4.2" height="4.2" fill="#fff"/>
<rect x="406.35" y="154.55" width="112.75" height="109.30000000000001" fill="#0000fa"/>
<g clip-path="url(#pc1)">
<g clip-path="url(#lc2)">
<rect x="407" y="150" width="112" height="32" fill="#0a2cff" opacity="0.5"/>
<path d="M410.2 152 L417.7 181" stroke="#30d0ff" stroke-opacity="0.5" stroke-width="1.3" stroke-dasharray="1.2 1.2"/>
<path d="M414.3 152 L421.2 181" stroke="#30d0ff" stroke-opacity="0.5" stroke-width="1.3" stroke-dasharray="1.2 1.2"/>
<path d="M418.4 152 L424.7 181" stroke="#30d0ff" stroke-opacity="0.5" stroke-width="1.3" stroke-dasharray="1.2 1.2"/>
<path d="M422.5 152 L428.2 181" stroke="#30d0ff" stroke-opacity="0.5" stroke-width="1.3" stroke-dasharray="1.2 1.2"/>
<path d="M426.6 152 L431.8 181" stroke="#30d0ff" stroke-opacity="0.5" stroke-width="1.3" stroke-dasharray="1.2 1.2"/>
<path d="M430.7 152 L435.3 181" stroke="#30d0ff" stroke-opacity="0.5" stroke-width="1.3" stroke-dasharray="1.2 1.2"/>
<path d="M434.8 152 L438.8 181" stroke="#30d0ff" stroke-opacity="0.5" stroke-width="1.3" stroke-dasharray="1.2 1.2"/>
<path d="M438.9 152 L442.3 181" stroke="#30d0ff" stroke-opacity="0.5" stroke-width="1.3" stroke-dasharray="1.2 1.2"/>
<path d="M443.0 152 L445.9 181" stroke="#30d0ff" stroke-opacity="0.5" stroke-width="1.3" stroke-dasharray="1.2 1.2"/>
<path d="M447.1 152 L449.4 181" stroke="#30d0ff" stroke-opacity="0.5" stroke-width="1.3" stroke-dasharray="1.2 1.2"/>
<path d="M451.2 152 L452.9 181" stroke="#30d0ff" stroke-opacity="0.5" stroke-width="1.3" stroke-dasharray="1.2 1.2"/>
<path d="M455.3 152 L456.4 181" stroke="#30d0ff" stroke-opacity="0.5" stroke-width="1.3" stroke-dasharray="1.2 1.2"/>
<path d="M459.4 152 L460.0 181" stroke="#30d0ff" stroke-opacity="0.6" stroke-width="1.3" stroke-dasharray="1.2 1.2"/>
<path d="M463.5 152 L463.5 181" stroke="#30d0ff" stroke-opacity="0.6" stroke-width="1.3" stroke-dasharray="1.2 1.2"/>
<path d="M467.6 152 L467.0 181" stroke="#30d0ff" stroke-opacity="0.6" stroke-width="1.3" stroke-dasharray="1.2 1.2"/>
<path d="M471.7 152 L470.6 181" stroke="#30d0ff" stroke-opacity="0.5" stroke-width="1.3" stroke-dasharray="1.2 1.2"/>
<path d="M475.8 152 L474.1 181" stroke="#30d0ff" stroke-opacity="0.5" stroke-width="1.3" stroke-dasharray="1.2 1.2"/>
<path d="M479.9 152 L477.6 181" stroke="#30d0ff" stroke-opacity="0.5" stroke-width="1.3" stroke-dasharray="1.2 1.2"/>
<path d="M484.0 152 L481.1 181" stroke="#30d0ff" stroke-opacity="0.5" stroke-width="1.3" stroke-dasharray="1.2 1.2"/>
<path d="M488.1 152 L484.7 181" stroke="#30d0ff" stroke-opacity="0.5" stroke-width="1.3" stroke-dasharray="1.2 1.2"/>
<path d="M492.2 152 L488.2 181" stroke="#30d0ff" stroke-opacity="0.5" stroke-width="1.3" stroke-dasharray="1.2 1.2"/>
<path d="M496.3 152 L491.7 181" stroke="#30d0ff" stroke-opacity="0.5" stroke-width="1.3" stroke-dasharray="1.2 1.2"/>
<path d="M500.4 152 L495.2 181" stroke="#30d0ff" stroke-opacity="0.5" stroke-width="1.3" stroke-dasharray="1.2 1.2"/>
<path d="M504.5 152 L498.8 181" stroke="#30d0ff" stroke-opacity="0.5" stroke-width="1.3" stroke-dasharray="1.2 1.2"/>
<path d="M508.6 152 L502.3 181" stroke="#30d0ff" stroke-opacity="0.5" stroke-width="1.3" stroke-dasharray="1.2 1.2"/>
<path d="M512.7 152 L505.8 181" stroke="#30d0ff" stroke-opacity="0.5" stroke-width="1.3" stroke-dasharray="1.2 1.2"/>
<path d="M516.8 152 L509.3 181" stroke="#30d0ff" stroke-opacity="0.5" stroke-width="1.3" stroke-dasharray="1.2 1.2"/>
<path d="M456 155 L472 181 M471 155 L455 181" stroke="#50f0ff" stroke-opacity="0.9" stroke-width="1.4" stroke-dasharray="1.2 1.1"/>
<path d="M463.5 156 L449 181 M463.5 156 L478 181" stroke="#40d8ff" stroke-opacity="0.55" stroke-width="1.3" stroke-dasharray="1.2 1.1"/>
<path d="M463.5 154 V162" stroke="#30f0a0" stroke-opacity="0.8" stroke-width="1.6"/>
</g>
<ellipse cx="423" cy="161.7" rx="13" ry="6" fill="url(#gcy)"/>
<ellipse cx="503" cy="161.5" rx="13" ry="6" fill="url(#gcy)"/>
<ellipse cx="423" cy="161.7" rx="7.5" ry="3" fill="url(#ggr)"/>
<ellipse cx="503" cy="161.5" rx="7.5" ry="3" fill="url(#ggr)"/>
<ellipse cx="413.5" cy="170" rx="5" ry="2.2" fill="url(#gcy)" transform="rotate(-40 413.5 170)"/>
<ellipse cx="512" cy="169" rx="5" ry="2.2" fill="url(#gcy)" transform="rotate(40 512 169)"/>
<ellipse cx="440" cy="156.5" rx="9" ry="1.8" fill="url(#gcy)" opacity="0.6"/>
<ellipse cx="490" cy="156" rx="9" ry="1.8" fill="url(#gcy)" opacity="0.6"/>
<g clip-path="url(#bl2)"><path d="M456.9 198.9A6.6 6.0 0 1 0 470.1 198.9A6.6 6.0 0 1 0 456.9 198.9 M452.9 198.9A10.6 9.6 0 1 0 474.1 198.9A10.6 9.6 0 1 0 452.9 198.9 M449.0 198.9A14.5 13.2 0 1 0 478.0 198.9A14.5 13.2 0 1 0 449.0 198.9 M445.0 198.9A18.5 16.8 0 1 0 482.0 198.9A18.5 16.8 0 1 0 445.0 198.9 M441.1 198.9A22.4 20.4 0 1 0 485.9 198.9A22.4 20.4 0 1 0 441.1 198.9 M437.1 198.9A26.4 24.0 0 1 0 489.9 198.9A26.4 24.0 0 1 0 437.1 198.9 M433.1 198.9A30.4 27.6 0 1 0 493.9 198.9A30.4 27.6 0 1 0 433.1 198.9 M429.2 198.9A34.3 31.2 0 1 0 497.8 198.9A34.3 31.2 0 1 0 429.2 198.9 M425.2 198.9A38.3 34.8 0 1 0 501.8 198.9A38.3 34.8 0 1 0 425.2 198.9 M421.3 198.9A42.2 38.4 0 1 0 505.7 198.9A42.2 38.4 0 1 0 421.3 198.9 M417.3 198.9A46.2 42.0 0 1 0 509.7 198.9A46.2 42.0 0 1 0 417.3 198.9 M413.3 198.9A50.2 45.6 0 1 0 513.7 198.9A50.2 45.6 0 1 0 413.3 198.9 M409.4 198.9A54.1 49.2 0 1 0 517.6 198.9A54.1 49.2 0 1 0 409.4 198.9 M405.4 198.9A58.1 52.8 0 1 0 521.6 198.9A58.1 52.8 0 1 0 405.4 198.9 M401.5 198.9A62.0 56.4 0 1 0 525.5 198.9A62.0 56.4 0 1 0 401.5 198.9 M397.5 198.9A66.0 60.0 0 1 0 529.5 198.9A66.0 60.0 0 1 0 397.5 198.9 M393.5 198.9A70.0 63.6 0 1 0 533.5 198.9A70.0 63.6 0 1 0 393.5 198.9 M389.6 198.9A73.9 67.2 0 1 0 537.4 198.9A73.9 67.2 0 1 0 389.6 198.9 M385.6 198.9A77.9 70.8 0 1 0 541.4 198.9A77.9 70.8 0 1 0 385.6 198.9 M381.7 198.9A81.8 74.4 0 1 0 545.3 198.9A81.8 74.4 0 1 0 381.7 198.9" fill="none" stroke="#1e50ff" stroke-width="1.5" stroke-opacity="0.55"/></g>
<g fill="none" stroke-width="2.1">
<path d="M455.13 198.20A8.40 8.00 0 0 1 471.87 198.20" stroke="url(#g21)"/>
<path d="M450.95 197.85A12.60 12.00 0 0 1 476.05 197.85" stroke="url(#g22)"/>
<path d="M446.76 197.51A16.80 16.00 0 0 1 480.24 197.51" stroke="url(#g23)"/>
<path d="M442.58 197.16A21.00 20.00 0 0 1 484.42 197.16" stroke="url(#g24)"/>
</g>
<g fill="none" stroke-width="2.3">
<path d="M458.87 198.98A4.63 4.40 0 0 0 468.13 198.98" stroke="url(#g25)"/>
<path d="M453.77 199.05A9.73 8.80 0 0 0 473.23 199.05" stroke="url(#g26)"/>
<path d="M448.21 199.13A15.29 13.20 0 0 0 478.79 199.13" stroke="url(#g27)"/>
<path d="M442.19 199.21A21.32 17.60 0 0 0 484.81 199.21" stroke="url(#g28)"/>
<path d="M435.70 199.28A27.81 22.00 0 0 0 491.30 199.28" stroke="url(#g29)"/>
<path d="M428.74 199.36A34.76 26.40 0 0 0 498.26 199.36" stroke="url(#g30)"/>
<path d="M421.32 199.44A42.18 30.80 0 0 0 505.68 199.44" stroke="url(#g31)"/>
<path d="M414.23 199.51A49.28 35.20 0 0 0 512.77 199.51" stroke="url(#g32)"/>
<path d="M408.07 199.59A55.44 39.60 0 0 0 518.93 199.59" stroke="url(#g33)"/>
<path d="M401.91 199.67A61.60 44.00 0 0 0 525.09 199.67" stroke="url(#g34)"/>
<path d="M395.75 199.74A67.76 48.40 0 0 0 531.25 199.74" stroke="url(#g35)"/>
<path d="M389.59 199.82A73.92 52.80 0 0 0 537.41 199.82" stroke="url(#g36)"/>
<path d="M383.43 199.90A80.08 57.20 0 0 0 543.57 199.90" stroke="url(#g37)"/>
</g>
<ellipse cx="463.50" cy="194.40" rx="4.6" ry="2.2" fill="#00dbff" opacity="0.95"/>
<ellipse cx="463.50" cy="194.40" rx="3.0" ry="1.3" fill="#6bff93" opacity="1.0"/>
<ellipse cx="463.50" cy="198.90" rx="3.1" ry="1.9" fill="#6bff93" opacity="0.95"/>
<ellipse cx="463.50" cy="198.90" rx="1.5" ry="1.0" fill="#ff4c00" opacity="1.0"/>
<ellipse cx="463.50" cy="203.90" rx="4.6" ry="2.2" fill="#00dbff" opacity="0.95"/>
<ellipse cx="463.50" cy="203.90" rx="3.0" ry="1.3" fill="#6bff93" opacity="1.0"/>
</g>
<g clip-path="url(#pc1)"><path d="M407.65 180.7 A70.8 70.8 0 0 1 517.95 180.7" stroke="#fff" stroke-width="2.7" fill="none"/>
<path d="M406.35 180.7 H519.1" stroke="#fff" stroke-width="2.6"/></g>
<rect x="411.90" y="197.80" width="4.2" height="4.2" fill="#fff"/>
<rect x="419.77" y="197.80" width="4.2" height="4.2" fill="#fff"/>
<rect x="427.64" y="197.80" width="4.2" height="4.2" fill="#fff"/>
<rect x="435.51" y="197.80" width="4.2" height="4.2" fill="#fff"/>
<rect x="443.38" y="197.80" width="4.2" height="4.2" fill="#fff"/>
<rect x="451.25" y="197.80" width="4.2" height="4.2" fill="#fff"/>
<rect x="459.12" y="197.80" width="4.2" height="4.2" fill="#fff"/>
<rect x="466.99" y="197.80" width="4.2" height="4.2" fill="#fff"/>
<rect x="474.86" y="197.80" width="4.2" height="4.2" fill="#fff"/>
<rect x="482.73" y="197.80" width="4.2" height="4.2" fill="#fff"/>
<rect x="490.60" y="197.80" width="4.2" height="4.2" fill="#fff"/>
<rect x="498.47" y="197.80" width="4.2" height="4.2" fill="#fff"/>
<rect x="506.34" y="197.80" width="4.2" height="4.2" fill="#fff"/>
<rect x="514.21" y="197.80" width="4.2" height="4.2" fill="#fff"/>
<path d="M489.00 68.70 L499.10 68.70 L494.05 62.40 Z" fill="#fff"/>
<path d="M489.00 86.90 L499.10 86.90 L494.05 93.20 Z" fill="#fff"/>
<rect x="492.65" y="70.35" width="2.7" height="2.7" fill="#fff"/>
<rect x="492.65" y="75.50" width="2.7" height="2.7" fill="#fff"/>
<rect x="492.65" y="80.55" width="2.7" height="2.7" fill="#fff"/>
<path d="M487.30 174.00 L497.50 174.00 L492.40 180.20 Z" fill="#fff"/>
<path d="M487.40 207.60 L497.40 207.60 L492.40 202.30 Z" fill="#fff"/>
<rect x="491.25" y="158.50" width="2.8" height="2.8" fill="#fff"/>
<rect x="491.25" y="163.65" width="2.8" height="2.8" fill="#fff"/>
<rect x="491.25" y="168.80" width="2.8" height="2.8" fill="#fff"/>
<rect x="491.2" y="207" width="2.8" height="2.8" fill="#fff"/>
<rect x="491.15" y="212.90" width="2.8" height="2.8" fill="#fff"/>
<rect x="491.15" y="217.80" width="2.8" height="2.8" fill="#fff"/>
<rect x="491.15" y="223.10" width="2.8" height="2.8" fill="#fff"/>
<g clip-path="none"><rect x="406.35" y="32.8" width="112.75" height="109.8" fill="none" stroke="#000" stroke-width="1.3"/></g>
<path d="M403.6 32.80 H406.35 M403.6 60.25 H406.35 M403.6 87.70 H406.35 M403.6 115.15 H406.35 M403.6 142.60 H406.35" stroke="#000" stroke-width="1.4"/>
<g clip-path="none"><rect x="406.35" y="154.55" width="112.75" height="109.30000000000001" fill="none" stroke="#000" stroke-width="1.3"/></g>
<path d="M403.6 154.55 H406.35 M403.6 181.88 H406.35 M403.6 209.20 H406.35 M403.6 236.53 H406.35 M403.6 263.85 H406.35" stroke="#000" stroke-width="1.4"/>
<path d="M448.80 34.20 A70.8 70.8 0 0 1 476.80 34.20" stroke="#fff" stroke-width="1.8" fill="none" opacity="0.85"/>
<path d="M448.80 155.70 A70.8 70.8 0 0 1 476.80 155.70" stroke="#fff" stroke-width="1.8" fill="none" opacity="0.85"/>
<path d="M407.70 263.9 V267.3 M435.70 263.9 V267.3 M463.70 263.9 V267.3 M491.70 263.9 V267.3 M519.70 263.9 V267.3" stroke="#000" stroke-width="1.4"/>
<text id="a" transform="translate(10.23 30.02) scale(0.9764 1)" font-family="Liberation Sans, Arial, sans-serif" font-weight="bold" font-size="17" fill="#000">a</text>
<text id="b" transform="translate(337.04 29.70) scale(1.1162 1)" font-family="Liberation Sans, Arial, sans-serif" font-weight="bold" font-size="17" fill="#000">b</text>
<text id="y15" transform="translate(38.82 60.10) scale(0.9984 1)" font-family="Liberation Sans, Arial, sans-serif" font-weight="bold" font-size="14" fill="#000">15</text>
<text id="y10" transform="translate(38.75 127.40) scale(1.0204 1)" font-family="Liberation Sans, Arial, sans-serif" font-weight="bold" font-size="14" fill="#000">10</text>
<text id="y5" transform="translate(42.68 193.80) scale(0.9887 1)" font-family="Liberation Sans, Arial, sans-serif" font-weight="bold" font-size="14" fill="#000">5</text>
<text id="y0" transform="translate(42.47 260.71) scale(1.0865 1)" font-family="Liberation Sans, Arial, sans-serif" font-weight="bold" font-size="14" fill="#000">0</text>
<text id="x20" transform="translate(100.64 277.25) scale(1.0285 1)" font-family="Liberation Sans, Arial, sans-serif" font-weight="bold" font-size="14" fill="#000">2.0</text>
<text id="x25" transform="translate(145.66 276.90) scale(1.0176 1)" font-family="Liberation Sans, Arial, sans-serif" font-weight="bold" font-size="14" fill="#000">2.5</text>
<text id="x30" transform="translate(191.44 276.77) scale(1.0653 1)" font-family="Liberation Sans, Arial, sans-serif" font-weight="bold" font-size="14" fill="#000">3.0</text>
<text id="x35" transform="translate(236.36 276.90) scale(1.0474 1)" font-family="Liberation Sans, Arial, sans-serif" font-weight="bold" font-size="14" fill="#000">3.5</text>
<text id="x40" transform="translate(282.25 276.90) scale(1.0521 1)" font-family="Liberation Sans, Arial, sans-serif" font-weight="bold" font-size="14" fill="#000">4.0</text>
<text id="xt" transform="translate(124.94 303.50) scale(1.0299 1)" font-family="Liberation Sans, Arial, sans-serif" font-weight="bold" font-size="14" fill="#000">Refractive index (n<tspan font-size="9.5" dy="2">lens</tspan><tspan dy="-2">)</tspan></text>
<text id="yt" transform="translate(28.30 216.82) rotate(-90) scale(1.0397 1)" font-family="Liberation Sans, Arial, sans-serif" font-weight="bold" font-size="14" fill="#000">Focal length (µm)</text>
<text id="l1" transform="translate(242.88 90.20) scale(0.9966 1)" font-family="Liberation Sans, Arial, sans-serif" font-weight="bold" font-size="14" fill="#000">F<tspan font-size="9.5" dy="1.9">Short</tspan></text>
<text id="l2" transform="translate(242.86 114.30) scale(0.9989 1)" font-family="Liberation Sans, Arial, sans-serif" font-weight="bold" font-size="14" fill="#000">F<tspan font-size="9.5" dy="3.4">Paraxial</tspan></text>
<text id="bx1" transform="translate(385.88 284.30) scale(1.0616 1)" font-family="Liberation Sans, Arial, sans-serif" font-weight="bold" font-size="13.5" fill="#000">-10.0</text>
<text id="bx2" transform="translate(423.14 284.30) scale(1.0534 1)" font-family="Liberation Sans, Arial, sans-serif" font-weight="bold" font-size="13.5" fill="#000">-5.0</text>
<text id="bx3" transform="translate(453.68 284.08) scale(1.0917 1)" font-family="Liberation Sans, Arial, sans-serif" font-weight="bold" font-size="13.5" fill="#000">0.0</text>
<text id="bx4" transform="translate(482.83 284.30) scale(1.0203 1)" font-family="Liberation Sans, Arial, sans-serif" font-weight="bold" font-size="13.5" fill="#000">5.0</text>
<text id="bx5" transform="translate(508.05 284.30) scale(1.0343 1)" font-family="Liberation Sans, Arial, sans-serif" font-weight="bold" font-size="13.5" fill="#000">10.0</text>
<text id="p1a" transform="translate(374.20 39.00) scale(1.0308 1)" font-family="Liberation Sans, Arial, sans-serif" font-weight="bold" font-size="13.5" fill="#000">-5.0</text>
<text id="p1b" transform="translate(376.87 66.33) scale(1.0202 1)" font-family="Liberation Sans, Arial, sans-serif" font-weight="bold" font-size="13.5" fill="#000">0.0</text>
<text id="p1c" transform="translate(376.40 94.50) scale(1.0692 1)" font-family="Liberation Sans, Arial, sans-serif" font-weight="bold" font-size="13.5" fill="#000">5.0</text>
<text id="p1d" transform="translate(369.62 121.50) scale(1.0664 1)" font-family="Liberation Sans, Arial, sans-serif" font-weight="bold" font-size="13.5" fill="#000">10.0</text>
<text id="p2a" transform="translate(374.08 160.00) scale(1.0609 1)" font-family="Liberation Sans, Arial, sans-serif" font-weight="bold" font-size="13.5" fill="#000">-5.0</text>
<text id="p2b" transform="translate(376.67 186.33) scale(1.0259 1)" font-family="Liberation Sans, Arial, sans-serif" font-weight="bold" font-size="13.5" fill="#000">0.0</text>
<text id="p2c" transform="translate(376.36 215.00) scale(1.0522 1)" font-family="Liberation Sans, Arial, sans-serif" font-weight="bold" font-size="13.5" fill="#000">5.0</text>
<text id="p2d" transform="translate(369.62 241.00) scale(1.0664 1)" font-family="Liberation Sans, Arial, sans-serif" font-weight="bold" font-size="13.5" fill="#000">10.0</text>
<text id="xu" transform="translate(442.20 303.90) scale(1.0541 1)" font-family="Liberation Sans, Arial, sans-serif" font-weight="bold" font-size="14" fill="#000">X (µm)</text>
<text id="yu" transform="translate(360.30 174.29) rotate(-90) scale(1.0807 1)" font-family="Liberation Sans, Arial, sans-serif" font-weight="bold" font-size="14" fill="#000">Y (µm)</text>
<text id="n1" transform="translate(414.20 132.30) scale(1.0285 1)" font-family="Liberation Sans, Arial, sans-serif" font-weight="bold" font-size="14" fill="#fff">n = 2.5</text>
<text id="n2" transform="translate(416.09 260.20) scale(1.0137 1)" font-family="Liberation Sans, Arial, sans-serif" font-weight="bold" font-size="14" fill="#fff">n = 4.0</text>
<text id="f1" transform="translate(504.13 80.00)" font-family="Liberation Sans, Arial, sans-serif" font-weight="bold" font-size="14.5" fill="#fff">F</text>
<text id="f2" transform="translate(504.35 216.70) scale(1.0163 1)" font-family="Liberation Sans, Arial, sans-serif" font-weight="bold" font-size="14.5" fill="#fff">F</text></svg></body></html>
